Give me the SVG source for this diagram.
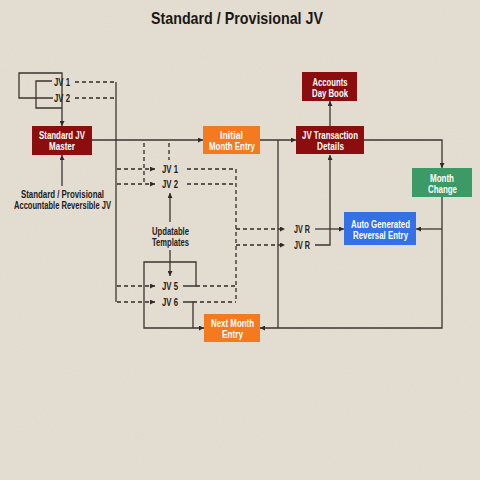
<svg xmlns="http://www.w3.org/2000/svg" width="480" height="480" viewBox="0 0 480 480">
<defs>
<marker id="ah" viewBox="0 0 10 10" refX="10" refY="5" markerWidth="5" markerHeight="5" orient="auto" markerUnits="userSpaceOnUse">
<path d="M0,0 L10,5 L0,10 z" fill="#2e2a26"/>
</marker>
<filter id="grain" x="0" y="0" width="100%" height="100%">
<feTurbulence type="fractalNoise" baseFrequency="0.9" numOctaves="2" seed="3" result="n"/>
<feColorMatrix in="n" type="matrix" values="0 0 0 0 0.55  0 0 0 0 0.5  0 0 0 0 0.42  0 0 0 0.18 0"/>
</filter>
<style>
.ln{fill:none;stroke:#3a3530;stroke-width:1.3}
.dl{fill:none;stroke:#2e2a26;stroke-width:1.3;stroke-dasharray:4 3}
.bt{font-family:"Liberation Sans",Arial,sans-serif;font-weight:bold;font-size:11px;fill:#ffffff;lengthAdjust:spacingAndGlyphs}
.lt{font-family:"Liberation Sans",Arial,sans-serif;font-weight:bold;font-size:10.5px;fill:#222019}
.red{fill:#8b0d0d}
.org{fill:#f5791f}
.grn{fill:#3b9a66}
.blu{fill:#3471e6}
</style>
</defs>
<rect x="0" y="0" width="480" height="480" fill="#e6e0d4"/>
<rect x="0" y="0" width="480" height="480" filter="url(#grain)"/>

<text class="lt" x="151" y="24" font-size="17" textLength="172" lengthAdjust="spacingAndGlyphs" style="font-size:17px;fill:#1a1814">Standard / Provisional JV</text>

<g id="connectors">
<!-- top-left loops -->
<path class="ln" d="M53,98 H19 V73 H62 V126" marker-end="url(#ah)"/>
<path class="ln" d="M52,81 H36 V108 H62"/>
<path class="ln" d="M62,186 V155" marker-end="url(#ah)"/>
<!-- main flow -->
<path class="ln" d="M92,140 H203" marker-end="url(#ah)"/>
<path class="ln" d="M260,140 H296" marker-end="url(#ah)"/>
<path class="ln" d="M278,140 V328"/>
<path class="ln" d="M330,126 V101" marker-end="url(#ah)"/>
<path class="ln" d="M364,140 H442 V168" marker-end="url(#ah)"/>
<path class="ln" d="M442,197 V328 H260" marker-end="url(#ah)"/>
<path class="ln" d="M442,229 H416" marker-end="url(#ah)"/>
<path class="ln" d="M315,229 H344" marker-end="url(#ah)"/>
<path class="ln" d="M315,245 H330 V155" marker-end="url(#ah)"/>
<!-- left vertical -->
<path class="ln" d="M116,82 V302"/>
<!-- updatable templates -->
<path class="ln" d="M170,222 V193" marker-end="url(#ah)"/>
<path class="ln" d="M170,250 V276" marker-end="url(#ah)"/>
<!-- JV5/JV6 to next month -->
<path class="ln" d="M183,286 H196 V262 H144 V328 H204" marker-end="url(#ah)"/>
<path class="ln" d="M183,302 H193 V328"/>
<!-- dashed -->
<path class="dl" d="M75,82 H116"/>
<path class="dl" d="M75,98 H116"/>
<path class="dl" d="M117,169 H155" marker-end="url(#ah)"/>
<path class="dl" d="M117,184 H155" marker-end="url(#ah)"/>
<path class="dl" d="M117,286 H155" marker-end="url(#ah)"/>
<path class="dl" d="M117,302 H155" marker-end="url(#ah)"/>
<path class="dl" d="M144,143 V185"/>
<path class="dl" d="M169,143 V160"/>
<path class="dl" d="M187,169 H236 V302"/>
<path class="dl" d="M187,184 H236"/>
<path class="dl" d="M196,286 H236"/>
<path class="dl" d="M193,302 H236"/>
<path class="dl" d="M236,229 H285" marker-end="url(#ah)"/>
<path class="dl" d="M236,245 H285" marker-end="url(#ah)"/>
</g>

<g id="master">
<rect class="red" x="32" y="126" width="60" height="29"/>
<text class="bt" x="39" y="139" textLength="46" lengthAdjust="spacingAndGlyphs">Standard JV</text>
<text class="bt" x="49" y="150" textLength="26" lengthAdjust="spacingAndGlyphs">Master</text>
</g>
<g id="initial">
<rect class="org" x="203" y="126" width="57" height="28"/>
<text class="bt" x="220" y="139" textLength="23" lengthAdjust="spacingAndGlyphs">Initial</text>
<text class="bt" x="209" y="150" textLength="46" lengthAdjust="spacingAndGlyphs">Month Entry</text>
</g>
<g id="jvtrans">
<rect class="red" x="296" y="126" width="68" height="28"/>
<text class="bt" x="302" y="139" textLength="56" lengthAdjust="spacingAndGlyphs">JV Transaction</text>
<text class="bt" x="317" y="150" textLength="27" lengthAdjust="spacingAndGlyphs">Details</text>
</g>
<g id="daybook">
<rect class="red" x="302" y="72" width="55" height="29"/>
<text class="bt" x="312.5" y="86" textLength="35" lengthAdjust="spacingAndGlyphs">Accounts</text>
<text class="bt" x="312" y="97" textLength="36" lengthAdjust="spacingAndGlyphs">Day Book</text>
</g>
<g id="monthchange">
<rect class="grn" x="412" y="168" width="60" height="29"/>
<text class="bt" x="430" y="182" textLength="24" lengthAdjust="spacingAndGlyphs">Month</text>
<text class="bt" x="428" y="193" textLength="29" lengthAdjust="spacingAndGlyphs">Change</text>
</g>
<g id="autogen">
<rect class="blu" x="344" y="212" width="72" height="33"/>
<text class="bt" x="351" y="228" textLength="59" lengthAdjust="spacingAndGlyphs">Auto Generated</text>
<text class="bt" x="353" y="238.5" textLength="55" lengthAdjust="spacingAndGlyphs">Reversal Entry</text>
</g>
<g id="nextmonth">
<rect class="org" x="204" y="314" width="56" height="28"/>
<text class="bt" x="211" y="327" textLength="43" lengthAdjust="spacingAndGlyphs">Next Month</text>
<text class="bt" x="222" y="338" textLength="21" lengthAdjust="spacingAndGlyphs">Entry</text>
</g>
<g id="labels">
<text class="lt" x="54" y="85.5" textLength="16" lengthAdjust="spacingAndGlyphs">JV 1</text>
<text class="lt" x="54" y="101.5" textLength="16" lengthAdjust="spacingAndGlyphs">JV 2</text>
<text class="lt" x="162" y="172.5" textLength="16" lengthAdjust="spacingAndGlyphs">JV 1</text>
<text class="lt" x="162" y="188" textLength="16" lengthAdjust="spacingAndGlyphs">JV 2</text>
<text class="lt" x="162" y="289.5" textLength="16" lengthAdjust="spacingAndGlyphs">JV 5</text>
<text class="lt" x="162" y="305.5" textLength="16" lengthAdjust="spacingAndGlyphs">JV 6</text>
<text class="lt" x="294" y="233" textLength="16" lengthAdjust="spacingAndGlyphs">JV R</text>
<text class="lt" x="294" y="249" textLength="16" lengthAdjust="spacingAndGlyphs">JV R</text>
<text class="lt" x="152" y="235" textLength="37" lengthAdjust="spacingAndGlyphs">Updatable</text>
<text class="lt" x="152" y="246" textLength="37" lengthAdjust="spacingAndGlyphs">Templates</text>
<text class="lt" x="21" y="198" textLength="83" lengthAdjust="spacingAndGlyphs">Standard / Provisional</text>
<text class="lt" x="14" y="209" textLength="97" lengthAdjust="spacingAndGlyphs">Accountable Reversible JV</text>
</g>
</svg>
